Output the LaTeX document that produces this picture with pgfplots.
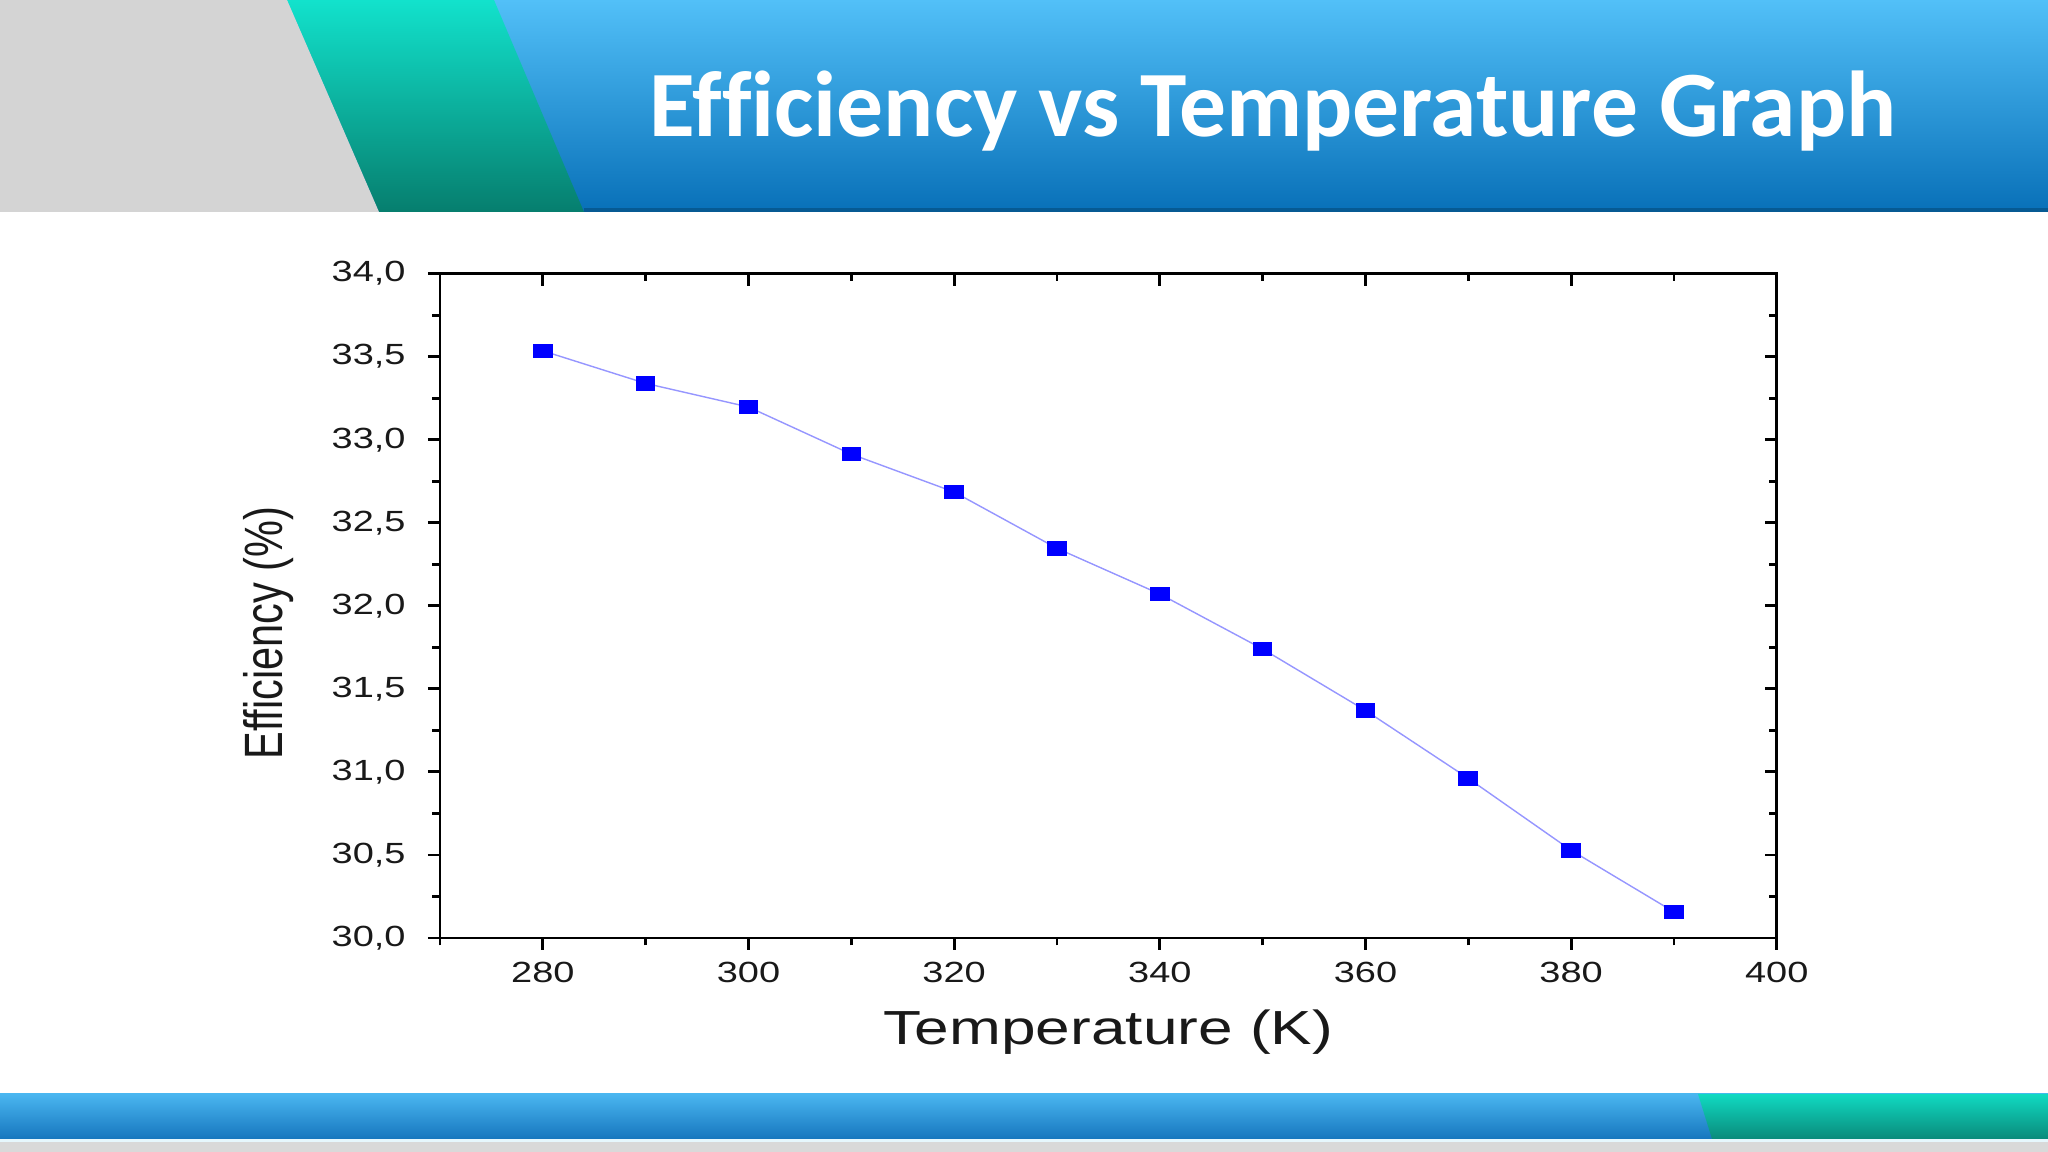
\documentclass[border=0pt]{standalone}
\usepackage{pgfplots}
\pgfplotsset{compat=1.18}
\usepackage{fontspec}
\setmainfont{Liberation Sans}
\newfontfamily\chartfont[FakeStretch=1.3]{Liberation Sans}
\newfontfamily\titlefont[Ligatures=NoCommon]{Carlito}
\definecolor{hdrgray}{RGB}{212,212,212}
\definecolor{blueTop}{RGB}{82,192,248}
\definecolor{blueBot}{RGB}{8,112,184}
\definecolor{greenTop}{RGB}{18,226,204}
\definecolor{greenBot}{RGB}{6,126,110}
\definecolor{fBlueTop}{RGB}{74,182,240}
\definecolor{fBlueBot}{RGB}{22,118,190}
\definecolor{fGreenTop}{RGB}{16,218,194}
\definecolor{fGreenBot}{RGB}{10,138,122}
\definecolor{lineblue}{RGB}{150,150,255}
\definecolor{txt}{RGB}{25,25,25}
\begin{document}
\begin{tikzpicture}[x=0.01cm,y=0.01cm]
\useasboundingbox (0,0) rectangle (2048,1152);
\fill[white] (0,0) rectangle (2048,1152);
% header
\shade[top color=blueTop, bottom color=blueBot] (0,940) rectangle (2048,1152);
\shade[top color=greenTop, bottom color=greenBot] (287,1152) -- (494,1152) -- (584,940) -- (379,940) -- cycle;
\fill[hdrgray] (0,1152) -- (287,1152) -- (379,940) -- (0,940) -- cycle;
\fill[blueBot!80!black] (584,940) rectangle (2048,944);
\node[font=\titlefont\bfseries\fontsize{26.6}{30}\selectfont, text=white, anchor=base] at (1273,1015) {Efficiency vs Temperature Graph};
% footer
\shade[top color=fBlueTop, bottom color=fBlueBot] (0,13) rectangle (2048,58);
\shade[top color=fGreenTop, bottom color=fGreenBot] (1698,58) -- (2048,58) -- (2048,13) -- (1712,13) -- cycle;
\fill[cyan!10] (0,10) rectangle (2048,13);
\fill[gray!30] (0,0) rectangle (2048,10);
\coordinate (axSW) at (440,214);
\pgfplotsset{
  common/.style={
    at={(axSW)}, anchor=south west,
    scale only axis, width=13.36cm, height=6.64cm,
    xmin=270, xmax=400, ymin=30, ymax=34,
    xtick={280,300,...,400}, minor xtick={270,290,...,390},
    ytick={30,30.5,...,34}, minor ytick={30.25,30.75,...,33.75},
    major tick length=0.12cm, minor tick length=0.075cm,
    axis line style={line width=0.8pt, black},
    tick style={line width=0.8pt, black},
  }
}
\begin{axis}[common,
    tick align=outside, xtick pos=bottom, ytick pos=left,
    /pgf/number format/assume math mode=true,
    xticklabel style={font=\chartfont\fontsize{8.3}{10}\selectfont, text=txt},
    yticklabel style={font=\chartfont\fontsize{8.3}{10}\selectfont, text=txt, xshift=-0.1cm,
      /pgf/number format/.cd, use comma, fixed, fixed zerofill, precision=1},
    xlabel={Temperature (K)},
    xlabel style={font=\chartfont\fontsize{13.6}{15}\selectfont, text=txt, at={(axis description cs:0.5,-0.161)}, anchor=base},
    ylabel={\scalebox{1}[1.3]{Efficiency (\%)}},
    ylabel style={font=\fontsize{11.8}{14}\selectfont, text=txt, at={(axis description cs:-0.128,0.459)}, anchor=center},
  ]
\addplot[color=lineblue, line width=0.4pt, mark=square*, mark size=1.85pt,
  mark options={xscale=1.4, fill=blue, draw=blue, solid}]
  coordinates {
  (280,33.535) (290,33.339) (300,33.197) (310,32.913) (320,32.685) (330,32.346)
  (340,32.071) (350,31.740) (360,31.370) (370,30.961) (380,30.528) (390,30.157)
  };
\end{axis}
\begin{axis}[common,
    tick align=inside, xtick pos=top, ytick pos=right,
    xticklabels={}, yticklabels={},
  ]
\end{axis}
\end{tikzpicture}
\end{document}
